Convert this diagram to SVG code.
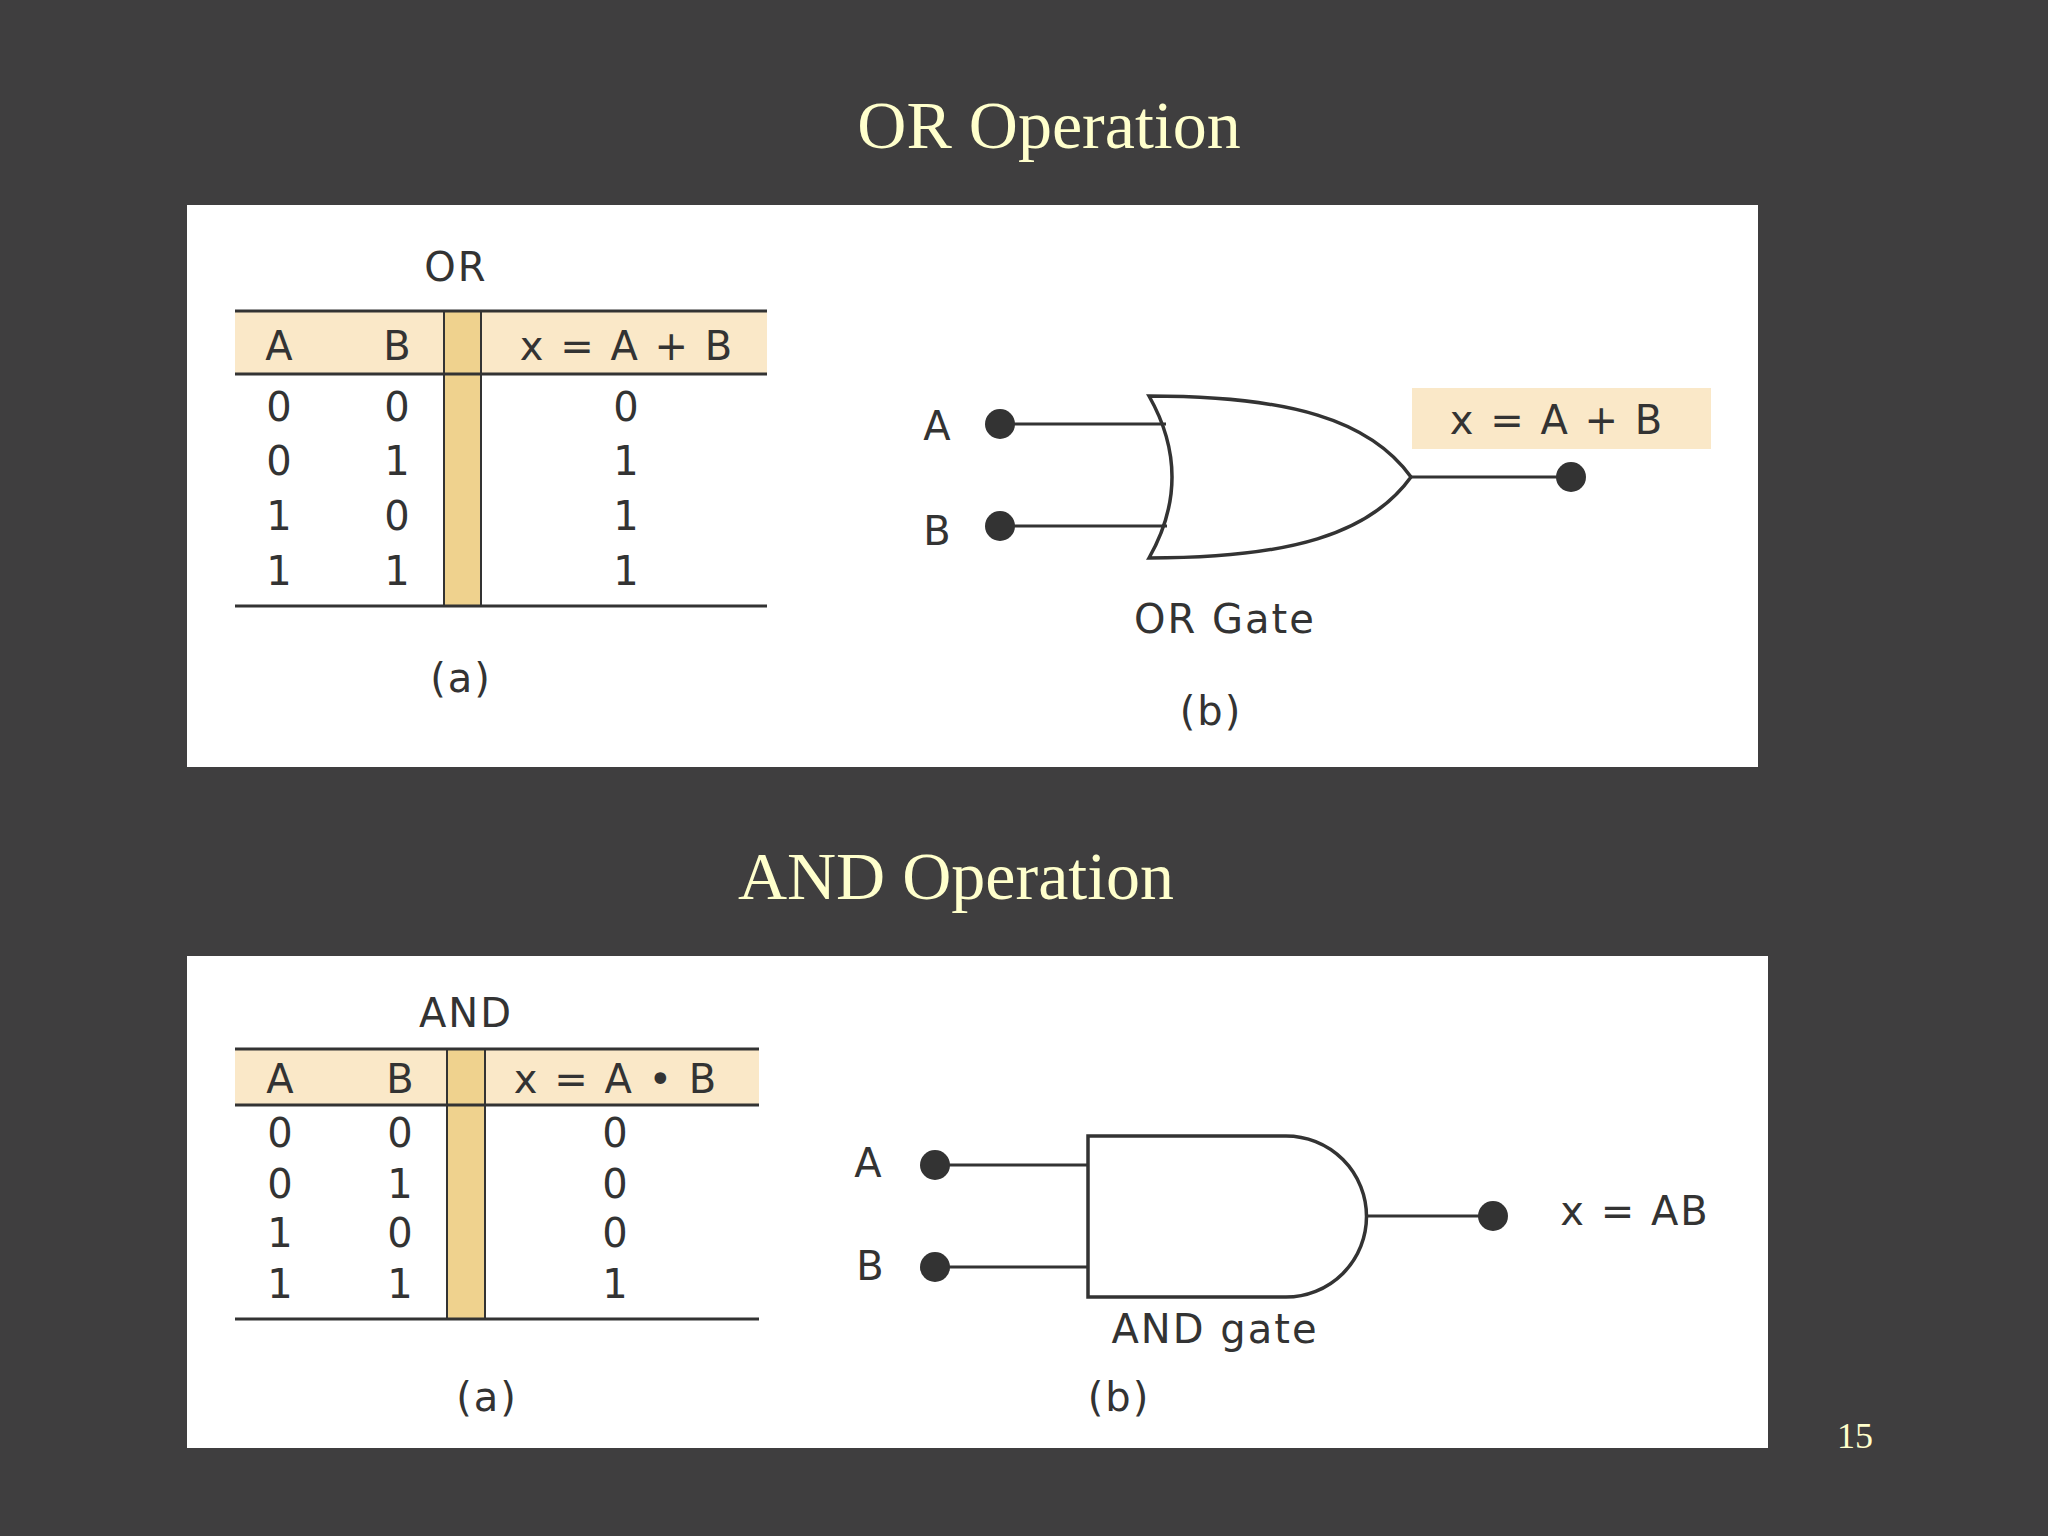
<svg xmlns="http://www.w3.org/2000/svg" width="2048" height="1536" viewBox="0 0 2048 1536">
<style>
.t{font-family:"DejaVu Sans","Liberation Sans",sans-serif;fill:#333;font-size:40px;letter-spacing:2px;text-anchor:middle}
.h{font-family:"Liberation Serif","Times New Roman",serif;fill:#FFFFCC;font-size:68px;text-anchor:middle}
.l{stroke:#333;stroke-width:3;fill:none}
.g{stroke:#333;stroke-width:3.5;fill:#fff}
</style>
<rect width="2048" height="1536" fill="#3f3e3f"/>
<text class="h" x="1049" y="148">OR Operation</text>
<text class="h" x="956" y="899">AND Operation</text>
<text x="1855" y="1448" style="font-family:'Liberation Serif',serif;fill:#FFFFCC;font-size:36px;text-anchor:middle">15</text>
<g id="or-panel">
<rect x="187" y="205" width="1571" height="562" fill="#fff"/>
<text class="t" x="456" y="281">OR</text>
<rect x="235" y="311" width="532" height="63" fill="#FAE8C8"/>
<rect x="444" y="311" width="37" height="295" fill="#EFD28E" stroke="#333" stroke-width="2"/>
<line class="l" x1="235" y1="311" x2="767" y2="311"/><line class="l" x1="235" y1="374" x2="767" y2="374"/><line class="l" x1="235" y1="606" x2="767" y2="606"/>
<text class="t" x="280" y="360">A</text><text class="t" x="398" y="360">B</text><text class="t" x="627" y="360">x = A + B</text>
<text class="t" x="280" y="421">0</text><text class="t" x="398" y="421">0</text><text class="t" x="627" y="421">0</text>
<text class="t" x="280" y="475">0</text><text class="t" x="398" y="475">1</text><text class="t" x="627" y="475">1</text>
<text class="t" x="280" y="530">1</text><text class="t" x="398" y="530">0</text><text class="t" x="627" y="530">1</text>
<text class="t" x="280" y="585">1</text><text class="t" x="398" y="585">1</text><text class="t" x="627" y="585">1</text>
<text class="t" x="461" y="692">(a)</text>
</g>
<g id="or-gate">
<path class="g" d="M1149,396 C1290,396 1370,420 1411,477 C1370,534 1290,558 1149,558 Q1195,477 1149,396 Z"/>
<rect x="1412" y="388" width="299" height="61" fill="#FAE8C8"/>
<text class="t" x="1557" y="434">x = A + B</text>
<text class="t" x="938" y="440">A</text><text class="t" x="938" y="545">B</text>
<text class="t" x="1225" y="633">OR Gate</text>
<text class="t" x="1211" y="725">(b)</text>
</g>
<g id="and-panel">
<rect x="187" y="956" width="1581" height="492" fill="#fff"/>
<text class="t" x="466" y="1027">AND</text>
<rect x="235" y="1049" width="524" height="56" fill="#FAE8C8"/>
<rect x="447" y="1049" width="38" height="270" fill="#EFD28E" stroke="#333" stroke-width="2"/>
<line class="l" x1="235" y1="1049" x2="759" y2="1049"/><line class="l" x1="235" y1="1105" x2="759" y2="1105"/><line class="l" x1="235" y1="1319" x2="759" y2="1319"/>
<text class="t" x="281" y="1093">A</text><text class="t" x="401" y="1093">B</text><text class="t" x="616" y="1093">x = A • B</text>
<text class="t" x="281" y="1147">0</text><text class="t" x="401" y="1147">0</text><text class="t" x="616" y="1147">0</text>
<text class="t" x="281" y="1198">0</text><text class="t" x="401" y="1198">1</text><text class="t" x="616" y="1198">0</text>
<text class="t" x="281" y="1247">1</text><text class="t" x="401" y="1247">0</text><text class="t" x="616" y="1247">0</text>
<text class="t" x="281" y="1298">1</text><text class="t" x="401" y="1298">1</text><text class="t" x="616" y="1298">1</text>
<text class="t" x="487" y="1411">(a)</text>
</g>
<g id="and-gate">
<path class="g" d="M1088,1136 L1286,1136 A80.5,80.5 0 0 1 1286,1297 L1088,1297 Z"/>
<text class="t" x="869" y="1177">A</text><text class="t" x="871" y="1280">B</text>
<text class="t" x="1635" y="1225">x = AB</text>
<text class="t" x="1215" y="1343">AND gate</text>
<text class="t" x="1119" y="1411">(b)</text>
</g>
<g id="connectors" fill="#333">
<line class="l" x1="1000" y1="424" x2="1166" y2="424"/><circle cx="1000" cy="424" r="15"/>
<line class="l" x1="1000" y1="526" x2="1167" y2="526"/><circle cx="1000" cy="526" r="15"/>
<line class="l" x1="1411" y1="477" x2="1571" y2="477"/><circle cx="1571" cy="477" r="15"/>
<line class="l" x1="935" y1="1165" x2="1088" y2="1165"/><circle cx="935" cy="1165" r="15"/>
<line class="l" x1="935" y1="1267" x2="1088" y2="1267"/><circle cx="935" cy="1267" r="15"/>
<line class="l" x1="1366" y1="1216" x2="1493" y2="1216"/><circle cx="1493" cy="1216" r="15"/>
</g>
</svg>
